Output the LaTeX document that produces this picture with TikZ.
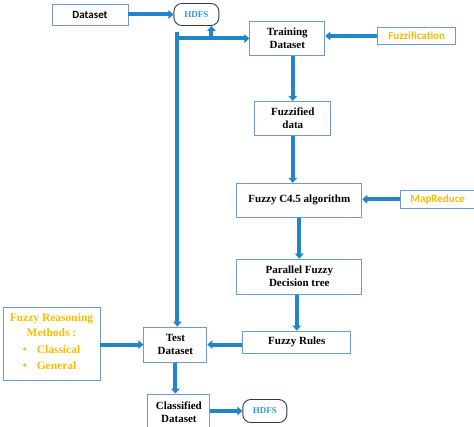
\documentclass[tikz,border=0pt]{standalone}
\usepackage{fontspec}
\setmainfont{Liberation Serif}
\newfontfamily\carlito{Carlito}
\usepackage{xcolor}
\usepackage{tikz}
\usetikzlibrary{positioning,arrows.meta}
\definecolor{flowblue}{RGB}{33,134,201}
\definecolor{boxline}{RGB}{112,153,212}
\definecolor{gold}{RGB}{250,188,0}
\definecolor{hdfsline}{RGB}{44,58,96}
\definecolor{hdfstext}{RGB}{52,152,214}

\begin{document}
\begin{tikzpicture}[box/.style={draw=boxline, line width=0.9pt, fill=white, align=center, font=\bfseries\fontsize{11}{13}\selectfont, inner sep=2pt}, side/.style={box, font=\carlito\bfseries\fontsize{11}{13}\selectfont, text=gold}, store/.style={draw=hdfsline, line width=0.9pt, rounded corners=8pt, font=\bfseries\fontsize{9}{11}\selectfont, text=hdfstext, minimum width=45pt, minimum height=22pt}, flow/.style={draw=flowblue, line width=4pt, -{Triangle[length=5pt,width=8.5pt]}}]
\useasboundingbox (0,0) rectangle (474pt,-427pt);
\node[side, text=black, minimum width=76pt, minimum height=21pt] (data) at (90pt,-14.5pt) {Dataset};
\node[store, right=45pt of data] (hdfsin) {HDFS};
\node[box, minimum width=75pt, minimum height=34pt, right=30pt of hdfsin, yshift=-24pt] (train) {Training\\Dataset};
\node[side, minimum width=78pt, minimum height=17pt, right=52pt of train, yshift=2.5pt] (fuzzif) {Fuzzification};
\node[box, minimum width=76pt, minimum height=34pt, below=45pt of train, xshift=5.5pt] (fuzzified) {Fuzzified\\data};
\node[box, minimum width=125pt, minimum height=34pt, below=47pt of fuzzified, xshift=6.5pt] (c45) {Fuzzy C4.5 algorithm};
\node[side, minimum width=74pt, minimum height=18pt, right=38pt of c45, yshift=1pt] (mapred) {MapReduce};
\node[box, minimum width=125pt, minimum height=35pt, below=41pt of c45] (pfdt) {Parallel Fuzzy\\Decision tree};
\node[box, minimum width=108pt, minimum height=22pt, below=36pt of pfdt, xshift=-2.5pt] (rules) {Fuzzy Rules};
\node[box, minimum width=63pt, minimum height=35pt, left=35pt of rules, yshift=-2.5pt] (test) {Test\\Dataset};
\node[box, text=gold, font=\bfseries\fontsize{11.5}{15.5}\selectfont, minimum width=97pt, minimum height=73pt, left=43pt of test, yshift=1pt] (methods) {Fuzzy Reasoning\\Methods :\\[5pt]\begin{tabular}{@{}l@{\hspace{10pt}}l@{}}\textbullet & Classical\\ \textbullet & General\end{tabular}};
\node[box, minimum width=62pt, minimum height=37pt, below=31pt of test, xshift=3.5pt] (classified) {Classified\\Dataset};
\node[store, minimum width=44pt, minimum height=23pt, right=32pt of classified, yshift=1.5pt] (hdfsout) {HDFS};
\coordinate (junc) at ([xshift=2pt]test.north |- train.west);
\coordinate (top) at ([yshift=6pt]junc);
\draw[flow] (data) -- (hdfsin);
\draw[flow] (top) -- (junc |- test.north);
\draw[flow] ([xshift=-2pt]junc) -- (train.west);
\draw[flow] ([xshift=15pt]hdfsin.south |- junc) -- ([xshift=15pt]hdfsin.south);
\draw[flow] (fuzzif.west) -- (fuzzif.west -| train.east);
\draw[flow] (fuzzified.north |- train.south) -- (fuzzified.north);
\draw[flow] (fuzzified.south) -- (fuzzified.south |- c45.north);
\draw[flow] (c45) -- (pfdt);
\draw[flow] (mapred.west) -- (mapred.west -| c45.east);
\draw[flow] (rules.north |- pfdt.south) -- (rules.north);
\draw[flow] (rules.west |- test.east) -- (test.east);
\draw[flow] (methods.east |- test.west) -- (test.west);
\draw[flow] (test.south) -- (test.south |- classified.north);
\draw[flow] (classified.east |- hdfsout.west) -- (hdfsout.west);
\end{tikzpicture}
\end{document}
